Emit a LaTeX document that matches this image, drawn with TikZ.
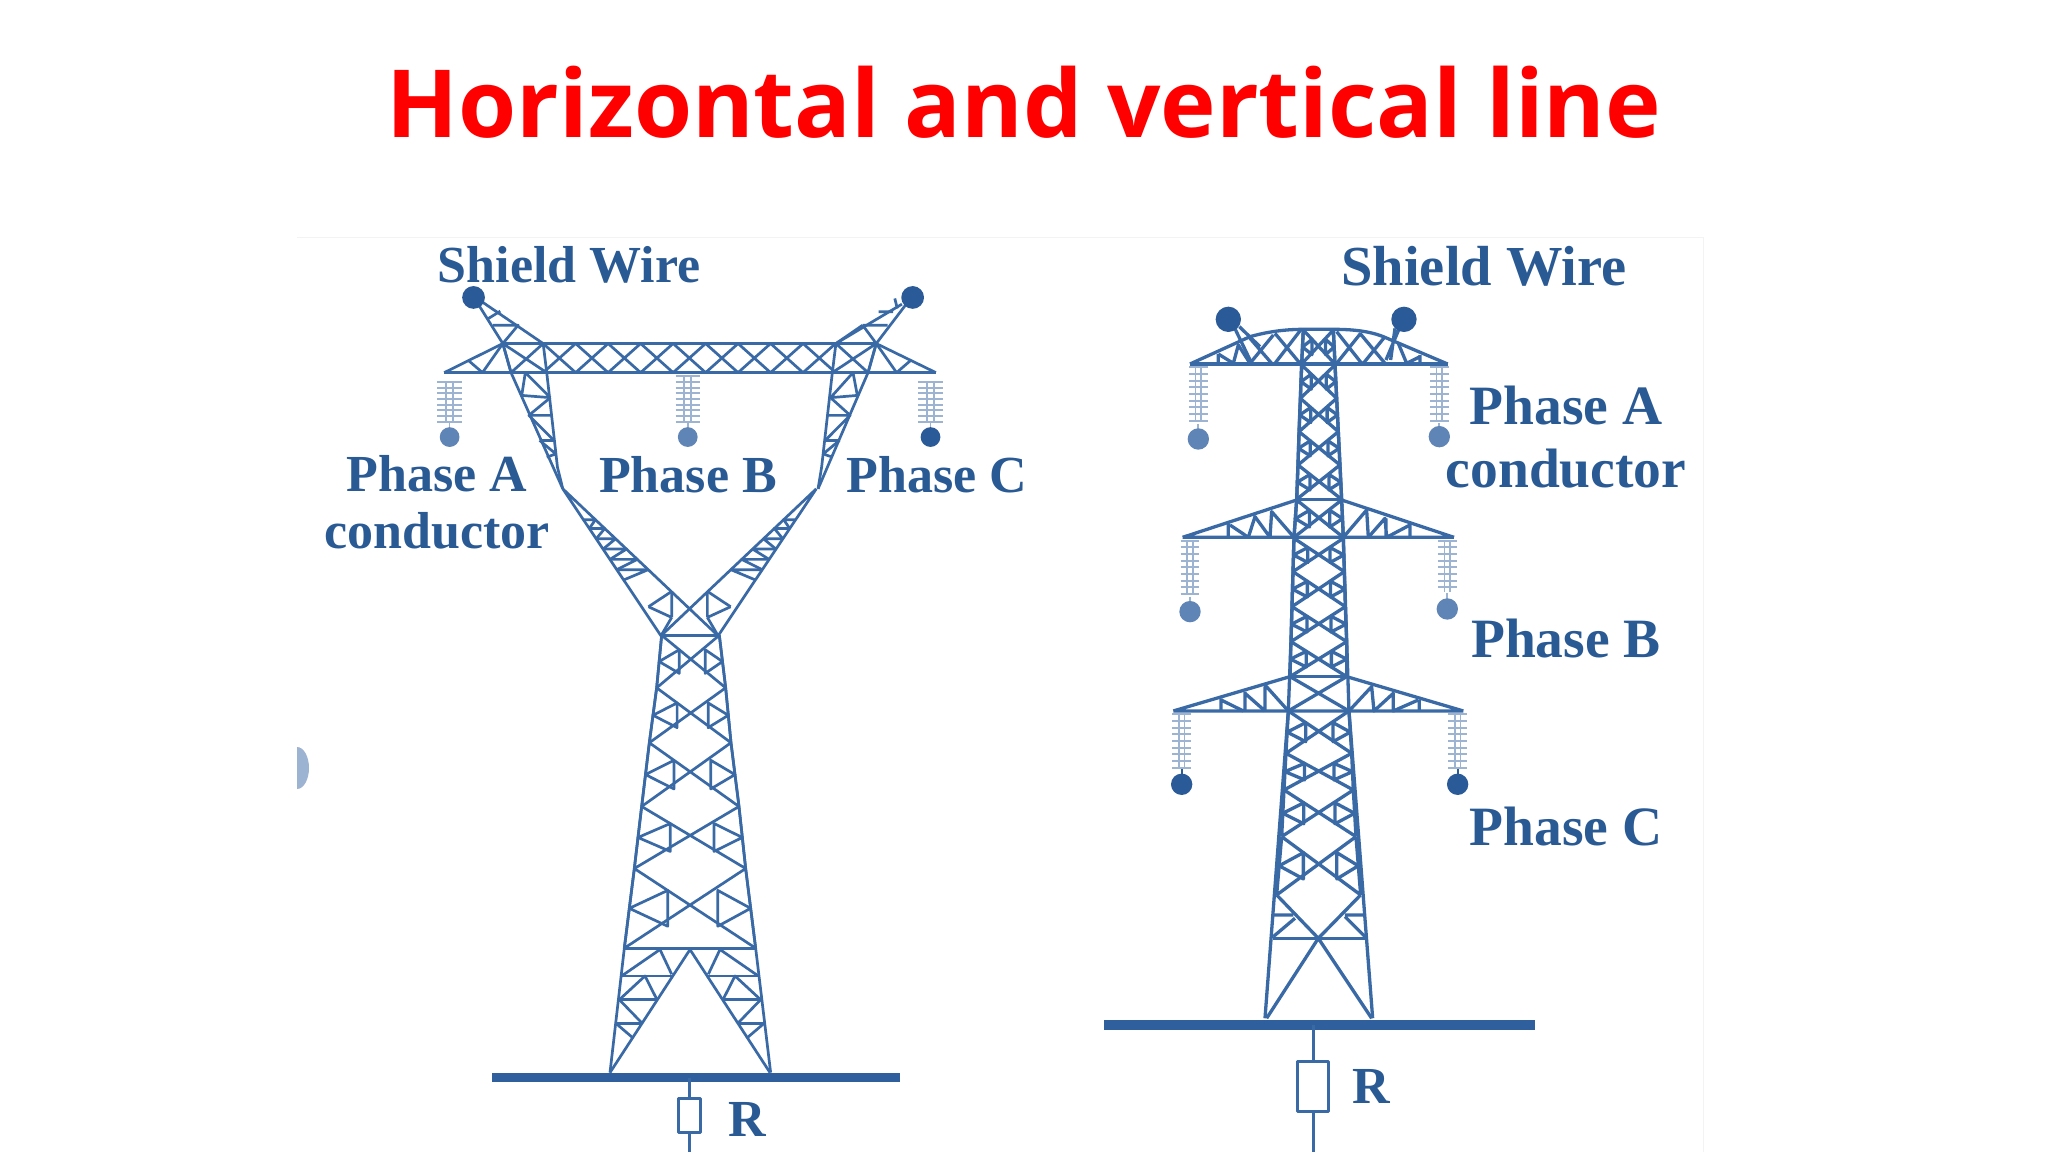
\documentclass[tikz,border=0pt]{standalone}
\usepackage{fontspec}
\setmainfont{Liberation Serif}
\newfontfamily\titlefont{Open Sans}
\usetikzlibrary{calc}
\definecolor{towerblue}{HTML}{3A6AA6}
\definecolor{barblue}{HTML}{2F5F9C}
\definecolor{textblue}{HTML}{2A5A94}
\definecolor{dotdark}{HTML}{2A5A98}
\definecolor{dotlight}{HTML}{5F84B6}
\definecolor{insul}{HTML}{9DB3D2}
\definecolor{frameline}{HTML}{F3F3F3}
\tikzset{
  titlelabel/.style={text=red,anchor=base,font=\titlefont\bfseries\fontsize{94}{112}\selectfont},
  leftlabel/.style={text=textblue,anchor=base,font=\bfseries\fontsize{52}{60}\selectfont},
  rightlabel/.style={text=textblue,anchor=base,font=\bfseries\fontsize{55.5}{66}\selectfont},
  lat/.style={draw=towerblue,line width=2.7pt,line join=round},
  latr/.style={draw=towerblue,line width=3.3pt,line join=round},
  insulator/.style={draw=insul,line width=1.8pt},
  bar/.style={draw=barblue,line width=9.5pt},
  res/.style={draw=towerblue,fill=white},
}
% X panel with corners TL TR BL BR
\newcommand{\xplain}[4]{%
  \draw (#1) -- (#4) (#2) -- (#3);}
\newcommand{\xpanel}[4]{%
  \draw (#1) -- (#4) (#2) -- (#3) (#1) -- (#3) (#2) -- (#4);
  \coordinate (mC) at ($(#1)!.5!(#4)$);
  \coordinate (mL) at ($(#1)!.5!(#3)$);
  \coordinate (mR) at ($(#2)!.5!(#4)$);
  \coordinate (uL) at ($(#1)!.55!(mC)$);
  \coordinate (dLz) at ($(#3)!.55!(mC)$);
  \coordinate (uR) at ($(#2)!.55!(mC)$);
  \coordinate (dRz) at ($(#4)!.55!(mC)$);
  \coordinate (dL) at (uL |- dLz);
  \coordinate (dR) at (uR |- dRz);
  \draw (mL) -- (uL) -- (dL) -- cycle (mR) -- (uR) -- (dR) -- cycle;}
% insulator string: centre x, top y, bottom y, half width, step
\newcommand{\insulator}[5]{%
  \draw[insulator] (#1-#4*.3,#2) -- (#1-#4*.3,#3) (#1+#4*.3,#2) -- (#1+#4*.3,#3);
  \foreach \yy in {#2,#5,...,#3} {\draw[insulator] (#1-#4,\yy) -- (#1+#4,\yy);}}
\newcommand{\legbottom}{%
  \draw (150,1335) -- (390,972);
  \draw (193,968) -- (390,968);
  \draw (185,1050) -- (335,1050) (178,1120) -- (290,1120) (168,1190) -- (245,1190);
  \draw (185,1050) -- (300,972) -- (335,1045);
  \draw (178,1120) -- (255,1050) -- (290,1118);
  \draw (178,1120) -- (245,1188);
  \draw (168,1190) -- (218,1232);}
\newcommand{\varm}{%
  \coordinate (vA) at (400,745);
  \coordinate (vB) at (675,1185);
  \coordinate (vC) at (835,1185);
  \draw (vA) -- (vB) (vA) -- (vC);
  \foreach \t/\u in {.21/.27,.27/.34,.34/.41,.41/.48,.48/.55,.55/.62}{
    \draw ($(vA)!\t!(vB)$) -- ($(vA)!\t!(vC)$) -- ($(vA)!\u!(vB)$);}
  \draw (705,1052) -- (705,1130) (640,1098) -- (705,1130);
  \draw (640,1098) -- (705,1052) (675,1185) -- (705,1130);}
\newcommand{\armtipL}{%
  \draw (135,360) -- (175,397) -- (232,310) -- (255,397);
  \draw (232,310) -- (355,397) (345,310) -- (255,397);}
\begin{document}
\begin{tikzpicture}[x=1pt,y=-1pt]
\useasboundingbox (0,0) rectangle (2048,1152);
\fill[white] (0,0) rectangle (2048,1152);
\draw[frameline,line width=1pt] (297,237) -- (1703,237) -- (1703,1152);
\fill[insul] (297,789) arc[start angle=90,end angle=-90,x radius=12,y radius=21] -- cycle;

\node[titlelabel] (title) at (1024,137) {Horizontal and vertical line};

% ---- left tower, upper part
\begin{scope}[shift={(420,240)},x=.357pt,y=-.334pt,every path/.style={lat}]
  \draw (68,397) -- (1445,397) (232,310) -- (1278,310);
  \draw (68,397) -- (232,310) (1445,397) -- (1278,310);
  % peaks and upper legs
  \draw (163,192) -- (232,310) -- (255,397) -- (400,745);
  \draw (175,186) -- (345,310) -- (355,397) -- (385,680) -- (400,745);
  \draw (1350,192) -- (1165,310) -- (1155,397) -- (1125,680) -- (1115,745);
  \draw (1362,192) -- (1278,310) -- (1255,397) -- (1115,745);
  \draw (190,236) -- (225,213) (205,255) -- (275,255) -- (232,310);
  \draw (1285,215) -- (1325,215) (1240,255) -- (1310,255) (1240,255) -- (1278,310) (1330,175) -- (1337,205);
  \draw (1240,255) -- (1165,310);
  % crossarm X bracing
  \foreach \i in {0,...,8}{
    \draw ({345+\i*91},310) -- ({345+(\i+1)*91},397) ({345+(\i+1)*91},310) -- ({345+\i*91},397);}
  \armtipL
  \begin{scope}[shift={(1510,0)},xscale=-1]\armtipL\end{scope}
  % upper leg bracing, left
  \draw (295,397) -- (365,472) (295,397) -- (285,465) (282,465) -- (365,472);
  \draw (365,472) -- (305,525) -- (370,525) (305,525) -- (375,600) (335,600) -- (378,600) (335,600) -- (380,640) (355,650) -- (382,640);
  % upper leg bracing, right
  \draw (1213,397) -- (1150,472) (1213,397) -- (1225,465) (1228,465) -- (1150,472);
  \draw (1150,472) -- (1205,525) -- (1140,525) (1205,525) -- (1135,600) (1175,600) -- (1132,600) (1175,600) -- (1130,640) (1155,650) -- (1128,640);
  % V arms
  \varm
  \begin{scope}[shift={(1510,0)},xscale=-1]\varm\end{scope}
  \draw (675,1185) -- (835,1185);
  % insulators
  \insulator{83}{425}{548}{34}{442}
  \insulator{750}{408}{548}{34}{425}
  \insulator{1430}{425}{548}{34}{442}
  \draw[insul,line width=1.5pt] (83,548) -- (83,570) (750,548) -- (750,570) (1430,548) -- (1430,570);
  \fill[dotdark] (150,172) circle[radius=10pt] (1380,172) circle[radius=10pt];
  \fill[dotlight] (83,590) circle[radius=8.5pt] (750,590) circle[radius=8.5pt];
  \fill[dotdark] (1430,590) circle[radius=8.5pt];
\end{scope}

% ---- left tower, lower part
\begin{scope}[shift={(560,620)},x=.3333pt,y=-.339pt,every path/.style={lat}]
  \draw (305,45) -- (290,200) -- (268,362) -- (245,550) -- (223,733) -- (193,968) -- (150,1335);
  \draw (478,45) -- (497,200) -- (513,362) -- (537,550) -- (557,733) -- (587,968) -- (632,1335);
  \xpanel{305,45}{478,45}{290,200}{497,200}
  \xpanel{290,200}{497,200}{268,362}{513,362}
  \xpanel{268,362}{513,362}{245,550}{537,550}
  \xpanel{245,550}{537,550}{223,733}{557,733}
  \xpanel{223,733}{557,733}{193,968}{587,968}
  \legbottom
  \begin{scope}[shift={(780,0)},xscale=-1]\legbottom\end{scope}
  \coordinate (gndL) at (-203,1350);
  \coordinate (gndR) at (1020,1350);
  \draw[bar] (gndL) -- (gndR);
  \node[res,line width=2.5pt,minimum width=22pt,minimum height=34pt,inner sep=0pt] (resL) at (388,1462) {};
  \coordinate (tailL) at (388,1568);
  \draw (388,1350) -- (resL.north) (resL.south) -- (tailL);
\end{scope}

% ---- right tower
\begin{scope}[shift={(1150,280)},x=.3333pt,y=-.3333pt,every path/.style={latr}]
  % top arm
  \draw (120,252) -- (893,252);
  \draw (120,252) -- (300,170) .. controls (370,150) and (430,148) .. (460,148) -- (550,148) .. controls (590,148) and (650,150) .. (700,170) -- (893,252);
  \draw (252,140) -- (305,250) (268,140) -- (330,200);
  \draw (748,145) -- (708,240) (735,145) -- (722,240);
  \draw (300,175) -- (365,250) (370,165) -- (300,250) (375,160) -- (450,250) (452,150) -- (375,250);
  \draw (630,160) -- (705,250) (635,250) -- (560,155) (640,250) -- (705,170) (560,250) -- (632,160);
  \draw (205,252) -- (205,222) (205,222) -- (250,250) -- (265,195) -- (300,250);
  \draw (810,252) -- (810,225) (810,230) -- (770,250) -- (745,190);
  % mast
  \draw (460,148) -- (455,252) -- (440,660) -- (432,772) -- (423,1080) -- (415,1293) -- (345,2215);
  \draw (550,148) -- (555,252) -- (575,660) -- (580,772) -- (590,1080) -- (597,1293) -- (668,2215);
  \xpanel{460,150}{550,150}{455,252}{555,252}
  \xpanel{455,255}{555,255}{451,355}{560,355}
  \xpanel{451,355}{560,355}{447,455}{565,455}
  \xpanel{447,455}{565,455}{444,555}{570,555}
  \xpanel{444,555}{570,555}{440,658}{575,658}
  \draw (440,658) -- (575,658);
  % second arm
  \draw (98,772) -- (912,772) (98,772) -- (440,660) (912,772) -- (575,660);
  \draw (235,772) -- (235,730) (240,735) -- (295,772) -- (315,710) -- (360,772) -- (365,695) -- (432,772);
  \draw (580,772) -- (650,690) -- (655,772) -- (705,715) -- (710,772) -- (780,735) -- (780,772) (708,715) -- (708,772);
  \xpanel{440,660}{575,660}{432,772}{580,772}
  \xpanel{432,775}{580,775}{429,875}{583,875}
  \xpanel{429,875}{583,875}{426,980}{586,980}
  \xpanel{426,980}{586,980}{423,1085}{590,1085}
  \xpanel{423,1085}{590,1085}{420,1190}{590,1190}
  % third arm
  \draw (420,1190) -- (590,1190);
  \draw (70,1293) -- (940,1293) (70,1293) -- (420,1190) (940,1293) -- (590,1190);
  \draw (213,1293) -- (213,1255) (213,1260) -- (280,1293) (285,1235) -- (285,1293) (285,1240) -- (345,1293) (345,1220) -- (345,1293) (345,1215) -- (415,1293);
  \draw (597,1293) -- (665,1220) -- (672,1293) -- (730,1240) -- (730,1293) -- (805,1260) (808,1260) -- (808,1293);
  \xplain{420,1190}{590,1190}{415,1293}{597,1293}
  % below third arm
  \xpanel{415,1293}{597,1293}{408,1420}{605,1420}
  \xpanel{408,1420}{605,1420}{402,1530}{610,1530}
  \xpanel{402,1530}{610,1530}{395,1670}{618,1670}
  \xpanel{395,1670}{618,1670}{380,1845}{632,1845}
  \draw (380,1845) -- (505,1975) -- (665,2215) (632,1845) -- (505,1975) -- (350,2215);
  \draw (368,1975) -- (645,1975);
  \draw (372,1905) -- (430,1905) (585,1905) -- (640,1905) (370,1970) -- (435,1915) (645,1970) -- (585,1910);
  % insulators
  \insulator{145}{262}{425}{28}{282}
  \insulator{868}{262}{425}{28}{282}
  \insulator{120}{782}{945}{28}{802}
  \insulator{892}{782}{935}{28}{802}
  \insulator{95}{1303}{1465}{28}{1323}
  \insulator{923}{1303}{1465}{28}{1323}
  \draw[insul,line width=2pt] (145,432) -- (145,460) (868,430) -- (868,455) (120,950) -- (120,975) (892,940) -- (892,970);
  \draw[dotdark,line width=2pt] (95,1467) -- (95,1495) (923,1467) -- (923,1495);
  \fill[dotdark] (235,118) circle[radius=11pt] (762,118) circle[radius=11pt];
  \fill[dotlight] (145,477) circle[radius=9pt] (868,470) circle[radius=9pt] (120,995) circle[radius=9pt] (892,987) circle[radius=9pt];
  \fill[dotdark] (95,1513) circle[radius=9pt] (923,1513) circle[radius=9pt];
  % ground and resistor
  \coordinate (gndRL) at (-138,2235);
  \coordinate (gndRR) at (1155,2235);
  \draw[bar] (gndRL) -- (gndRR);
  \node[res,line width=3.3pt,minimum width=31pt,minimum height=50pt,inner sep=0pt] (resR) at (490,2420) {};
  \coordinate (tailR) at (490,2616);
  \draw (490,2235) -- (resR.north) (resR.south) -- (tailR);
\end{scope}

% ---- labels
\node[leftlabel] (shieldL) at (569,282) {Shield Wire};
\node[leftlabel] (phaseAL) at (437,491) {Phase A};
\node[leftlabel] (condL) at (437,548) {conductor};
\node[leftlabel] (phaseBL) at (688,492) {Phase B};
\node[leftlabel] (phaseCL) at (937,492) {Phase C};
\node[leftlabel] (rL) at (747,1136) {R};
\node[rightlabel,font=\bfseries\fontsize{56.5}{66}\selectfont] (shieldR) at (1484,285) {Shield Wire};
\node[rightlabel] (phaseAR) at (1566,424) {Phase A};
\node[rightlabel] (condR) at (1566,487) {conductor};
\node[rightlabel] (phaseBR) at (1566,657) {Phase B};
\node[rightlabel] (phaseCR) at (1566,845) {Phase C};
\node[rightlabel,font=\bfseries\fontsize{52}{60}\selectfont] (rR) at (1371,1103) {R};
\end{tikzpicture}
\end{document}
